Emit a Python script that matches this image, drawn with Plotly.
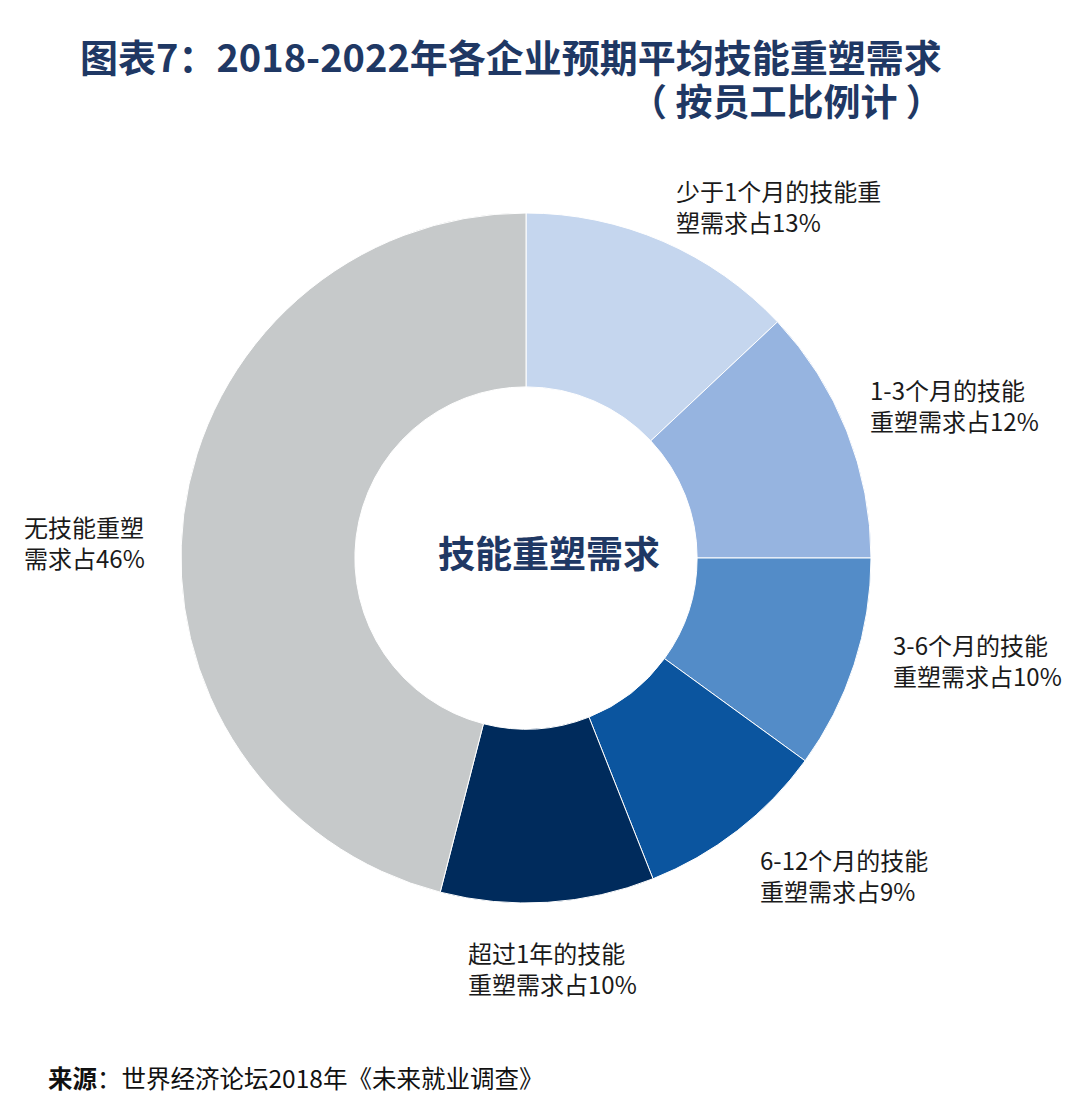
import plotly.graph_objects as go

W, H = 1080, 1099

categories = ["少于1个月", "1-3个月", "3-6个月", "6-12个月", "超过1年", "无技能重塑"]
values = [13, 12, 10, 9, 10, 46]
label_texts = [
    "少于1个月的技能重<br>塑需求占13%",
    "1-3个月的技能<br>重塑需求占12%",
    "3-6个月的技能<br>重塑需求占10%",
    "6-12个月的技能<br>重塑需求占9%",
    "超过1年的技能<br>重塑需求占10%",
    "无技能重塑<br>需求占46%",
]
colors = ["#C5D6EE", "#96B4E0", "#538CC8", "#0B559F", "#002B5C", "#C6C9CA"]

title_line1 = "图表7：2018-2022年各企业预期平均技能重塑需求"
title_line2 = "（ 按员工比例计 ）"
center_text = "技能重塑需求"
source_bold = "来源"
source_rest = "：世界经济论坛2018年《未来就业调查》"

# label anchor positions in pixels (left edge, vertical centre)
label_pos = [(674, 206), (868, 405), (891, 660), (758, 875), (466, 968), (22, 542)]

def px(x, y):
    return x / W, 1 - y / H

cx, cy, r = 526, 558, 345
fig = go.Figure(go.Pie(
    labels=categories,
    values=values,
    sort=False,
    direction="clockwise",
    rotation=0,
    hole=0.496,
    marker=dict(colors=colors, line=dict(color="white", width=1)),
    textinfo="none",
    hoverinfo="label+percent",
    domain=dict(x=[(cx - r) / W, (cx + r) / W], y=[1 - (cy + r) / H, 1 - (cy - r) / H]),
    showlegend=False,
))

ann = []
font_cjk = "Noto Sans CJK SC, Microsoft YaHei, sans-serif"
for t, (x, y) in zip(label_texts, label_pos):
    xx, yy = px(x, y)
    ann.append(dict(text=t, x=xx, y=yy, xref="paper", yref="paper", xanchor="left", yanchor="middle",
                    showarrow=False, align="left", font=dict(family=font_cjk, size=24, color="#1a1a1a")))

xx, yy = px(78, 55)
ann.append(dict(text="<b>" + title_line1 + "</b>", x=xx, y=yy, xref="paper", yref="paper", xanchor="left",
                yanchor="middle", showarrow=False, font=dict(family=font_cjk, size=38, color="#1F3864")))
xx, yy = px(945, 100)
ann.append(dict(text="<b>" + title_line2 + "</b>", x=xx, y=yy, xref="paper", yref="paper", xanchor="right",
                yanchor="middle", showarrow=False, font=dict(family=font_cjk, size=37, color="#1F3864")))
xx, yy = px(549, 552)
ann.append(dict(text="<b>" + center_text + "</b>", x=xx, y=yy, xref="paper", yref="paper", xanchor="center",
                yanchor="middle", showarrow=False, font=dict(family=font_cjk, size=37, color="#1F3864")))
xx, yy = px(46, 1077)
ann.append(dict(text="<b>" + source_bold + "</b>" + source_rest, x=xx, y=yy, xref="paper", yref="paper",
                xanchor="left", yanchor="middle", showarrow=False,
                font=dict(family=font_cjk, size=24.5, color="#111111")))

fig.update_layout(
    width=W, height=H,
    margin=dict(l=0, r=0, t=0, b=0),
    paper_bgcolor="white", plot_bgcolor="white",
    annotations=ann,
)
fig.write_html("out.html")
